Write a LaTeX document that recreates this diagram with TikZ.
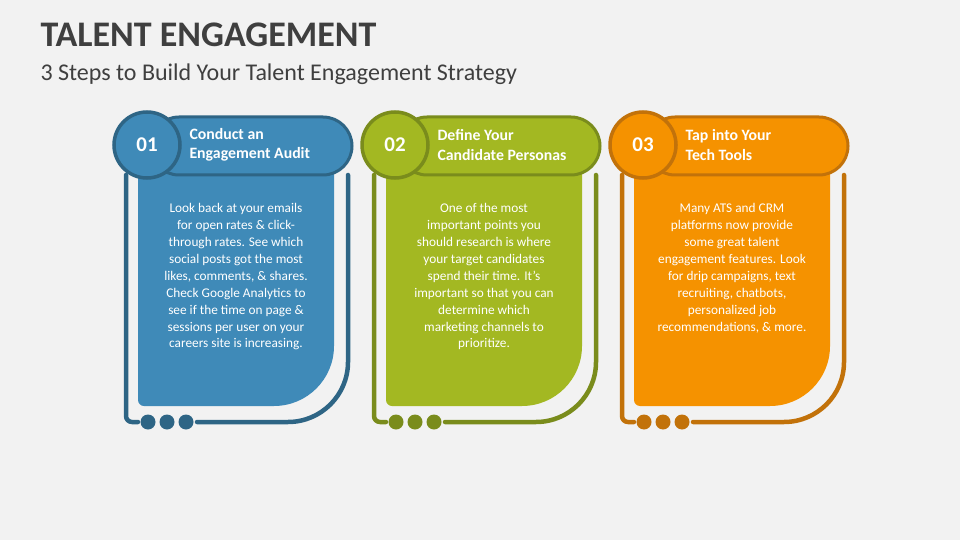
\documentclass[tikz,border=0pt]{standalone}
\usepackage{fontspec}
\setmainfont{Carlito}
\begin{document}
\begin{tikzpicture}[x=1pt,y=-1pt,
  hdtext/.style={text=white,font=\fontsize{15.8}{19.5}\selectfont\bfseries,align=left,anchor=west},
  bodytext/.style={text=white,font=\fontsize{13.3}{16.9}\selectfont,align=center,anchor=north}]
\definecolor{bg}{HTML}{F2F2F2}
\definecolor{ttl}{HTML}{3F3F3F}
\fill[bg] (0,0) rectangle (960,540);
\useasboundingbox (0,0) rectangle (960,540);
\node[anchor=west,text=ttl,font=\fontsize{36}{40}\selectfont\bfseries] (title) at (37,35) {TALENT ENGAGEMENT};
\node[anchor=west,text=ttl,font=\fontsize{24}{28}\selectfont] (sub) at (37,74) {3 Steps to Build Your Talent Engagement Strategy};
\newcommand{\panel}[7]{%
\begin{scope}[xshift=#1]
  \definecolor{fc}{HTML}{#2}\definecolor{dc}{HTML}{#3}
  \draw[dc,line width=4.5,line cap=round] (126,175) -- (126,416) arc[start angle=180,end angle=90,radius=6] -- (138,422);
  \draw[dc,line width=4.5,line cap=round] (197,422) -- (288,422) arc[start angle=90,end angle=0,radius=60] -- (348,175);
  \foreach \dx in {148,167,186} \fill[dc] (\dx,422) circle (7.5);
  \fill[fc] (138,170) -- (334,170) -- (334,346) arc[start angle=0,end angle=90,radius=60] -- (144,406) arc[start angle=90,end angle=180,radius=6] -- cycle;
  \draw[fill=fc,draw=dc,line width=3,rounded corners=29] (150,117) rectangle (352,175);
  \draw[fill=fc,draw=dc,line width=3.5] (147,145) circle (33);
  \node[text=white,font=\fontsize{21}{24}\selectfont\bfseries] (n#7) at (147,145) {#4};
  \node[hdtext] (h#7) at (186,145) {#5};
  \node[bodytext] (b#7) at (236,200) {#6};
\end{scope}}
\panel{0}{3F8AB8}{2E6585}{01}{Conduct an\\Engagement Audit}{Look back at your emails\\for open rates \& click-\\through rates. See which\\social posts got the most\\likes, comments, \& shares.\\Check Google Analytics to\\see if the time on page \&\\sessions per user on your\\careers site is increasing.}{a}
\panel{248}{A3B822}{7A8C1C}{02}{Define Your\\Candidate Personas}{One of the most\\important points you\\should research is where\\your target candidates\\spend their time. It’s\\important so that you can\\determine which\\marketing channels to\\prioritize.}{b}
\panel{496}{F59200}{C2720A}{03}{Tap into Your\\Tech Tools}{Many ATS and CRM\\platforms now provide\\some great talent\\engagement features. Look\\for drip campaigns, text\\recruiting, chatbots,\\personalized job\\recommendations, \& more.}{c}
\end{tikzpicture}
\end{document}
